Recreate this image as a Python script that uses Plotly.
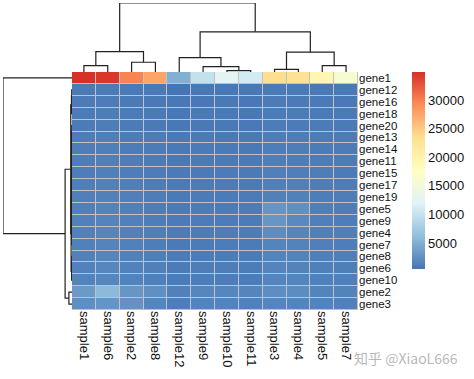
import plotly.graph_objects as go

# ---------------- data ----------------
samples = ["sample1", "sample6", "sample2", "sample8", "sample12", "sample9",
           "sample10", "sample11", "sample3", "sample4", "sample5", "sample7"]
genes = ["gene1", "gene12", "gene16", "gene18", "gene20", "gene13", "gene14",
         "gene11", "gene15", "gene17", "gene19", "gene5", "gene9", "gene4",
         "gene7", "gene8", "gene6", "gene10", "gene2", "gene3"]

expr = [
    [34900, 34500, 29800, 27500, 5000, 9800, 12500, 11000, 23500, 23000, 19400, 16000],  # gene1
    [900, 1000, 850, 750, 450, 650, 700, 650, 900, 850, 800, 750],          # gene12
    [950, 1050, 900, 800, 650, 700, 750, 700, 950, 900, 850, 800],          # gene16
    [1000, 1100, 950, 850, 700, 750, 800, 700, 1000, 950, 900, 850],        # gene18
    [1000, 1100, 1000, 900, 700, 800, 750, 750, 1050, 1000, 950, 900],      # gene20
    [1100, 1200, 1050, 950, 750, 850, 800, 800, 1100, 1050, 1000, 950],     # gene13
    [1100, 1200, 1050, 1000, 800, 850, 850, 800, 1150, 1100, 1000, 950],    # gene14
    [1150, 1250, 1100, 1000, 800, 900, 900, 850, 1200, 1150, 1050, 1000],   # gene11
    [1150, 1300, 1150, 1050, 850, 900, 950, 900, 1250, 1200, 1100, 1000],   # gene15
    [1200, 1350, 1200, 1050, 850, 950, 950, 900, 1300, 1250, 1100, 1050],   # gene17
    [1250, 1400, 1250, 1100, 900, 950, 1000, 950, 1400, 1350, 1150, 1100],  # gene19
    [1300, 1500, 1300, 1100, 900, 1000, 1000, 950, 2900, 2500, 1200, 1100], # gene5
    [1350, 1600, 1350, 1150, 950, 1050, 1050, 1000, 3000, 2000, 1250, 1150],# gene9
    [1400, 1700, 1400, 1200, 950, 1050, 1100, 1050, 2200, 1700, 1300, 1200],# gene4
    [1350, 1650, 1350, 1150, 900, 1000, 1050, 1000, 1600, 1500, 1250, 1150],# gene7
    [1400, 1700, 1400, 1200, 950, 1050, 1050, 1000, 1600, 1500, 1300, 1200],# gene8
    [1450, 1750, 1450, 1250, 950, 1100, 1100, 1050, 1650, 1550, 1300, 1200],# gene6
    [1500, 1800, 1500, 1300, 1000, 1150, 1100, 1050, 1700, 1600, 1350, 1250],# gene10
    [3300, 5800, 3000, 2500, 1400, 1800, 1800, 1700, 2300, 2200, 1600, 1500],# gene2
    [2400, 2900, 2700, 1700, 1100, 1500, 1500, 1400, 1700, 1600, 1500, 1400],# gene3
]

# column clustering merges: (name, left, right, height)
col_merges = [
    ("c1", "sample1", "sample6", 0.092),
    ("c2", "sample2", "sample8", 0.141),
    ("c3", "c1", "c2", 0.296),
    ("c4", "sample10", "sample11", 0.019),
    ("c5", "sample9", "c4", 0.077),
    ("c6", "sample12", "c5", 0.208),
    ("c7", "sample3", "sample4", 0.039),
    ("c8", "sample5", "sample7", 0.092),
    ("c9", "c7", "c8", 0.287),
    ("c10", "c6", "c9", 0.582),
    ("c11", "c3", "c10", 1.0),
]

row_merges = [
    ("r1", "gene12", "gene16", 0.004),
    ("r2", "r1", "gene18", 0.008),
    ("r3", "gene20", "gene13", 0.003),
    ("r4", "gene14", "gene11", 0.003),
    ("r5", "r3", "r4", 0.006),
    ("r6", "gene15", "gene17", 0.002),
    ("r7", "r6", "gene19", 0.004),
    ("r8", "r5", "r7", 0.008),
    ("r9", "gene5", "gene9", 0.003),
    ("r10", "gene4", "gene7", 0.003),
    ("r11", "r9", "r10", 0.006),
    ("r12", "r8", "r11", 0.010),
    ("r13", "gene8", "gene6", 0.003),
    ("r14", "r13", "gene10", 0.006),
    ("r15", "r12", "r14", 0.013),
    ("r16", "r2", "r15", 0.018),
    ("r17", "gene2", "gene3", 0.045),
    ("r18", "r16", "r17", 0.10),
    ("r19", "gene1", "r18", 1.0),
]

colors = ["#4575B4", "#91BFDB", "#E0F3F8", "#FFFFBF", "#FEE090", "#FC8D59", "#D73027"]
cbar_ticks = [5000, 10000, 15000, 20000, 25000, 30000]


def dendro_lines(leaves, merges):
    pos = {name: i for i, name in enumerate(leaves)}
    hgt = {name: 0.0 for name in leaves}
    a, b = [], []
    for name, l, r, h in merges:
        pl, pr = pos[l], pos[r]
        a += [pl, pl, pr, pr, None]
        b += [hgt[l], h, h, hgt[r], None]
        pos[name] = (pl + pr) / 2
        hgt[name] = h
    return a, b


W, H = 474, 379
hx0, hx1 = 72 / W, 358 / W
hy0, hy1 = 1 - 310 / H, 1 - 72 / H

n_s, n_g = len(samples), len(genes)
cs = [[i / (len(colors) - 1), c] for i, c in enumerate(colors)]
font = "Liberation Sans, Arial"
grid = "#C2C2C2"

fig = go.Figure()
fig.add_trace(go.Heatmap(
    z=expr, x=list(range(n_s)), y=list(range(n_g)),
    colorscale=cs, xgap=1, ygap=1, hoverinfo="skip",
    colorbar=dict(
        x=412 / W, xanchor="left", y=hy1, yanchor="top", xpad=0, ypad=0,
        len=197 / H, lenmode="fraction", thickness=13,
        outlinewidth=0, ticks="", tickvals=cbar_ticks,
        ticktext=[str(t) for t in cbar_ticks],
        tickfont=dict(size=13, color="#111", family=font),
    ),
    xaxis="x", yaxis="y",
))

cx, cy = dendro_lines(samples, col_merges)
fig.add_trace(go.Scatter(x=cx, y=cy, mode="lines", xaxis="x2", yaxis="y2",
                         line=dict(color="#222", width=1.2), hoverinfo="skip",
                         showlegend=False))
ry, rx = dendro_lines(genes, row_merges)
fig.add_trace(go.Scatter(x=rx, y=ry, mode="lines", xaxis="x3", yaxis="y3",
                         line=dict(color="#222", width=1.2), hoverinfo="skip",
                         showlegend=False))

fig.add_shape(type="rect", xref="x", yref="y", x0=-0.5, x1=n_s - 0.5,
              y0=-0.5, y1=n_g - 0.5, fillcolor=grid,
              line=dict(color=grid, width=1), layer="below")

fig.update_layout(
    width=W, height=H, margin=dict(l=0, r=0, t=0, b=0, autoexpand=False),
    paper_bgcolor="white", plot_bgcolor="white", showlegend=False,
    xaxis=dict(domain=[hx0, hx1], range=[-0.5, n_s - 0.5], tickvals=list(range(n_s)),
               ticktext=samples, tickangle=90, ticks="", showgrid=False,
               zeroline=False, automargin=False,
               tickfont=dict(size=13, color="#111", family=font), anchor="y"),
    yaxis=dict(domain=[hy0, hy1], range=[n_g - 0.5, -0.5], tickvals=list(range(n_g)),
               ticktext=genes, side="right", ticks="", showgrid=False,
               zeroline=False, automargin=False,
               tickfont=dict(size=11.5, color="#111", family=font), anchor="x"),
    xaxis2=dict(domain=[hx0, hx1], range=[-0.5, n_s - 0.5], visible=False, anchor="y2"),
    yaxis2=dict(domain=[hy1, 1 - 3 / H], range=[0, 1.0], visible=False, anchor="x2"),
    xaxis3=dict(domain=[3 / W, hx0], range=[1.0, 0], visible=False, anchor="y3"),
    yaxis3=dict(domain=[hy0, hy1], range=[n_g - 0.5, -0.5], visible=False, anchor="x3"),
    annotations=[dict(text="知乎 @XiaoL666", xref="paper", yref="paper",
                      x=460 / W, y=1 - 358 / H, xanchor="right", yanchor="middle",
                      showarrow=False,
                      font=dict(size=14, color="rgba(160,160,160,0.75)",
                                family="Noto Sans CJK SC"))],
)

fig.write_html("out.html", config={"displayModeBar": False},
               post_script="document.body.style.margin='0';document.body.style.overflow='hidden';")
